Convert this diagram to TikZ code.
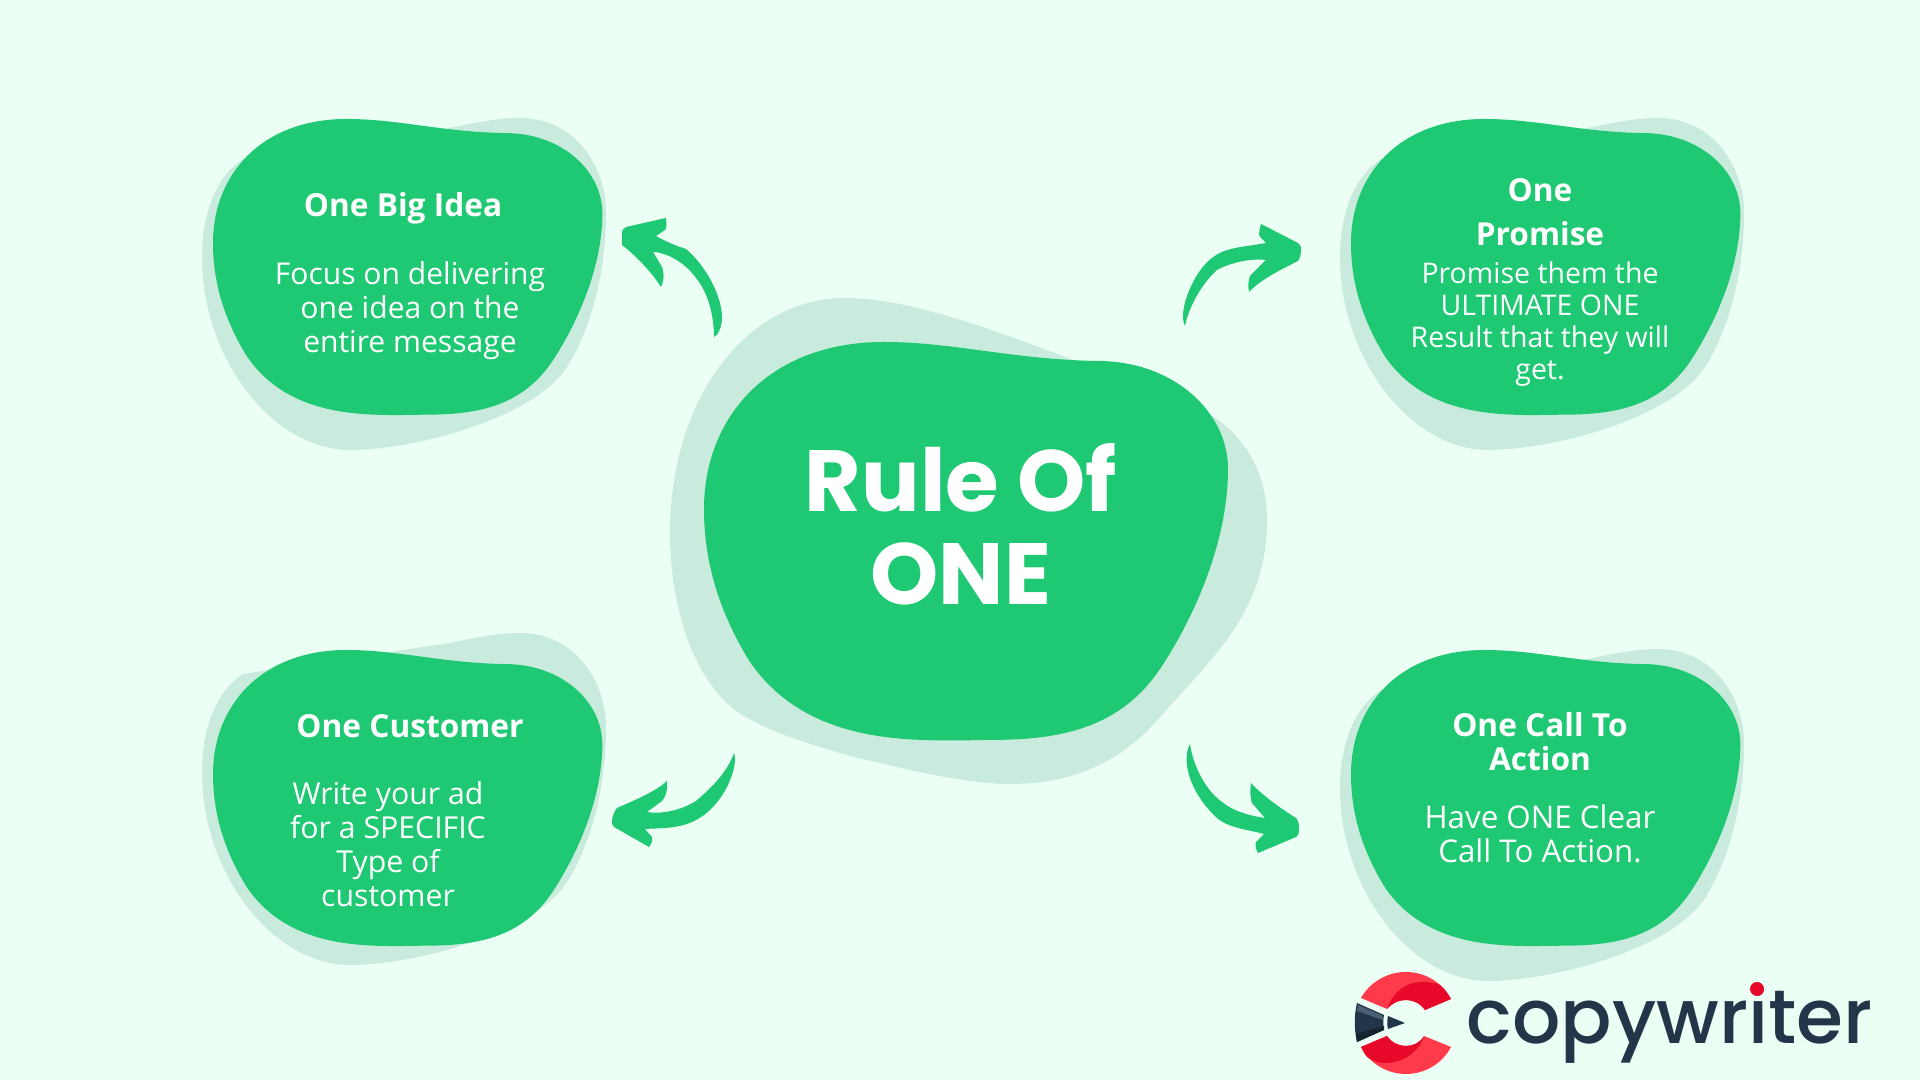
\documentclass[tikz,border=0pt]{standalone}
\usepackage{fontspec}
\setmainfont{Open Sans}
\newfontfamily\titlefont{Poppins}
\newfontfamily\logofont{Poppins Medium}
\definecolor{pagebg}{HTML}{EBFFF5}
\definecolor{blobgreen}{HTML}{1FC873}
\definecolor{blobshade}{HTML}{C8EBDD}
\definecolor{logodark}{HTML}{233549}
\definecolor{logosteel}{HTML}{4A6175}
\definecolor{logonavy}{HTML}{17242F}
\definecolor{logored}{HTML}{E8092A}
\definecolor{logolight}{HTML}{FF3A4A}
% green blob, from its top left corner
\newcommand{\blobpath}{(180,0) .. controls (250,0) and (310,18) .. (396,19)
  .. controls (470,20) and (524,70) .. (524,127)
  .. controls (524,200) and (490,275) .. (458,324)
  .. controls (415,390) and (350,398) .. (283,398)
  .. controls (210,399) and (105,405) .. (46,320)
  .. controls (15,270) and (0,220) .. (0,167)
  .. controls (0,75) and (65,0) .. (180,0) -- cycle}
\tikzset{
  blobfill/.pic={\fill[blobgreen] \blobpath;},
  smallshade/.pic={\fill[blobshade] (307,-1) .. controls (360,-1) and (393,45) .. (393,94)
    .. controls (393,160) and (375,215) .. (354,248)
    .. controls (320,300) and (200,331) .. (137,331)
    .. controls (60,331) and (-11,240) .. (-11,138)
    .. controls (-11,100) and (0,60) .. (30,40)
    -- (237,9) .. controls (260,4) and (285,-1) .. (307,-1) -- cycle;},
  headtext/.style={text=white,align=center,font=\fontsize{9}{9.7}\selectfont\bfseries},
  bodytext/.style={text=white,align=center,font=\fontsize{8.55}{9.67}\selectfont},
  arrowfill/.style={fill=blobgreen},
}
\begin{document}
\begin{tikzpicture}[x=0.01cm,y=-0.01cm]
\useasboundingbox (0,0) rectangle (1920,1080);
\fill[pagebg] (0,0) rectangle (1920,1080);
% big blob
\fill[blobshade] (845,298) .. controls (931,298) and (1053,355) .. (1176,398)
  .. controls (1243,422) and (1267,471) .. (1267,520)
  .. controls (1267,610) and (1215,655) .. (1160,717)
  .. controls (1115,770) and (1060,784) .. (1010,784)
  .. controls (960,784) and (890,765) .. (854,757)
  .. controls (800,742) and (760,728) .. (735,710)
  .. controls (690,675) and (670,600) .. (670,533)
  .. controls (670,398) and (747,298) .. (845,298) -- cycle;
\pic at (704,342) {blobfill};
% small blobs
\foreach \bx/\by/\sy in {213/119/0,1351/119/0,213/650/-16,1351/650/0} {
  \pic at (\bx,\by+\sy) {smallshade};
  \pic[scale=0.743] at (\bx,\by) {blobfill};
}
\node[text=white,align=center,font=\fontsize{24.7}{26.5}\titlefont\bfseries] (title) at (961,524) {Rule Of\\ONE};
\node[headtext] (ideahead) at (403,208) {One Big Idea};
\node[bodytext] (ideabody) at (410,311) {Focus on delivering\\one idea on the\\entire message};
\node[headtext,font=\fontsize{9}{12.5}\selectfont\bfseries] (promisehead) at (1540,212) {One\\Promise};
\node[bodytext,font=\fontsize{8.1}{9.1}\selectfont] (promisebody) at (1540,324) {Promise them the\\ULTIMATE ONE\\Result that they will\\get.};
\node[headtext] (customerhead) at (410,726) {One Customer};
\node[bodytext,font=\fontsize{8.6}{9.67}\selectfont] (customerbody) at (388,844) {Write your ad\\for a SPECIFIC\\Type of\\customer};
\node[headtext] (actionhead) at (1540,742) {One Call To\\Action};
\node[bodytext,font=\fontsize{8.9}{9.67}\selectfont] (actionbody) at (1540,834) {Have ONE Clear\\Call To Action.};
% arrows
\coordinate (ideatail) at (714,337);
\coordinate (ideatip) at (622,240);
\fill[arrowfill] (ideatail) .. controls (714,320) and (710,295) .. (696,278)
  .. controls (685,262) and (665,252) .. (653,252) -- (662,267)
  .. controls (665,275) and (663,283) .. (661,287)
  .. controls (650,270) and (635,255) .. (622,245) -- (ideatip) -- (622,235)
  .. controls (622,230) and (623,228) .. (626,227) -- (666,218)
  .. controls (667,225) and (666,229) .. (665,230) -- (656,236)
  .. controls (670,244) and (680,247) .. (686,249)
  .. controls (705,265) and (722,295) .. (722,318)
  .. controls (722,326) and (718,336) .. (ideatail) -- cycle;
\coordinate (promisetail) at (1185,326);
\coordinate (promisetip) at (1301,250);
\fill[arrowfill] (promisetail) .. controls (1177,310) and (1195,270) .. (1212,258)
  .. controls (1225,247) and (1245,247) .. (1266,243) -- (1260,237)
  .. controls (1258,234) and (1260,228) .. (1261,224) -- (1296,242)
  .. controls (1300,244) and (1301,246) .. (promisetip)
  .. controls (1301,254) and (1300,258) .. (1298,261)
  .. controls (1280,270) and (1260,280) .. (1249,292)
  .. controls (1248,285) and (1248,282) .. (1250,276) -- (1266,260)
  .. controls (1250,258) and (1230,263) .. (1217,270)
  .. controls (1200,285) and (1188,310) .. (promisetail) -- cycle;
\coordinate (customertail) at (734,753);
\coordinate (customertip) at (612,820);
\fill[arrowfill] (customertail) .. controls (739,765) and (725,805) .. (696,820)
  .. controls (680,829) and (660,828) .. (645,829) -- (652,837)
  .. controls (653,840) and (651,845) .. (649,847) -- (614,827)
  .. controls (612,825) and (612,823) .. (customertip)
  .. controls (613,815) and (615,810) .. (617,808)
  .. controls (635,800) and (655,792) .. (667,781)
  .. controls (668,790) and (665,798) .. (662,801) -- (647,812)
  .. controls (665,815) and (685,808) .. (696,801)
  .. controls (715,785) and (728,770) .. (customertail) -- cycle;
\coordinate (actiontail) at (1190,744);
\coordinate (actiontip) at (1299,828);
\fill[arrowfill] (actiontail) .. controls (1182,758) and (1187,790) .. (1217,818)
  .. controls (1228,828) and (1250,830) .. (1264,834) -- (1256,842)
  .. controls (1255,845) and (1256,850) .. (1258,853) -- (1296,837)
  .. controls (1299,835) and (1299,832) .. (actiontip)
  .. controls (1299,824) and (1298,820) .. (1296,818)
  .. controls (1280,808) and (1262,795) .. (1251,783)
  .. controls (1250,790) and (1250,798) .. (1252,803) -- (1265,818)
  .. controls (1245,815) and (1232,810) .. (1222,802)
  .. controls (1205,790) and (1193,765) .. (actiontail) -- cycle;
% logo
\fill[logolight] (1361,998) .. controls (1370,982) and (1387.5,972) .. (1406,972)
  .. controls (1424.5,972) and (1442,982) .. (1451,999) -- (1425,1010)
  .. controls (1420,1003) and (1413,1000) .. (1406,1000)
  .. controls (1399,1000) and (1392,1003) .. (1387,1009) -- cycle;
\fill[logored] (1387,1009) .. controls (1392,995) and (1403,982) .. (1423,982)
  .. controls (1430,982) and (1436,983) .. (1440,985)
  .. controls (1445,989) and (1448,994) .. (1451,999) -- (1425,1010)
  .. controls (1420,1003) and (1413,1000) .. (1406,1000)
  .. controls (1399,1000) and (1392,1003) .. (1387,1009) -- cycle;
\fill[logolight] (1361,1047) .. controls (1370,1064) and (1387.5,1074) .. (1406,1074)
  .. controls (1424.5,1074) and (1442,1064) .. (1451,1047) -- (1424,1036)
  .. controls (1420,1043) and (1413,1046) .. (1406,1046)
  .. controls (1399,1046) and (1392,1043) .. (1387,1036) -- cycle;
\fill[logored] (1361,1047) .. controls (1363,1051) and (1364,1053) .. (1367,1057)
  .. controls (1374,1062) and (1380,1063) .. (1385,1063)
  .. controls (1405,1063) and (1420,1050) .. (1424,1036)
  .. controls (1420,1043) and (1413,1046) .. (1406,1046)
  .. controls (1399,1046) and (1392,1043) .. (1387,1036) -- cycle;
\fill[logodark] (1357,1003) -- (1384,1015) .. controls (1383,1020) and (1383,1025) .. (1384,1030)
  -- (1357,1042) .. controls (1354,1030) and (1354,1015) .. (1357,1003) -- cycle;
\fill[logosteel] (1358,1005) -- (1383,1016) -- (1383,1020) -- (1357,1011) -- cycle;
\fill[logonavy] (1357,1042) -- (1384,1030) -- (1384,1026) -- (1356,1034) -- cycle;
\fill[logodark] (1388,1016) -- (1405,1023) -- (1388,1029) .. controls (1387,1025) and (1387,1020) .. (1388,1016) -- cycle;
\node[anchor=base west,inner sep=0pt,text=logodark,font=\fontsize{21.6}{21.6}\logofont] (logotext) at (1466,1044) {copywriter};
\fill[logored] (1757,989) circle[radius=7];
\end{tikzpicture}
\end{document}
